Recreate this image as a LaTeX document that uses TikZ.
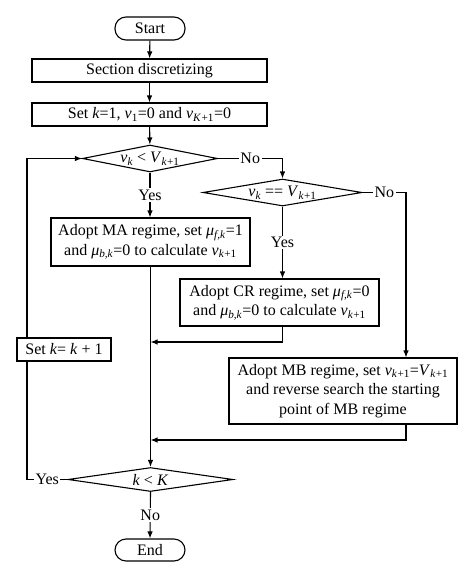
\documentclass[tikz,border=0pt]{standalone}
\usepackage{fontspec}
\setmainfont{Liberation Serif}
\usetikzlibrary{shapes.geometric,arrows.meta}
\newcommand\nuu{\textit{ν}}
\newcommand\muu{\textit{μ}}
\newcommand\sbs[1]{\textsubscript{\textit{#1}}}
\begin{document}
\begin{tikzpicture}[x=1pt,y=-1pt,
  every node/.style={font=\fontsize{16}{19.5}\selectfont},
  procbox/.style={draw,line width=1.1pt,rectangle,inner sep=0pt,align=center},
  term/.style={draw,line width=1.1pt,rectangle,rounded corners=11pt,inner sep=0pt},
  decis/.style={draw,line width=1.1pt,diamond,aspect=5,inner sep=0pt},
  conn/.style={line width=1.1pt},
  arr/.style={conn,-{Latex[length=7pt,width=5.5pt]}},
  lbl/.style={fill=white,inner sep=1.5pt}]
\useasboundingbox (0,0) rectangle (474,579);
\node[term,minimum width=70pt,minimum height=23pt] (start) at (150,28.5) {Start};
\node[procbox,minimum width=235pt,minimum height=23pt] (sec) at (149.5,70.5) {Section discretizing};
\node[procbox,minimum width=235pt,minimum height=23pt] (set) at (149.5,114.5) {Set \textit{k}=1, \nuu\textsubscript{1}=0 and \nuu\sbs{K}\textsubscript{+1}=0};
\node[decis,minimum width=135pt,minimum height=27pt] (d1) at (150,158.5) {\nuu\sbs{k} {<} \textit{V}\sbs{k}\textsubscript{+1}};
\node[decis,minimum width=159pt,minimum height=27pt] (d2) at (282.5,192.5) {\nuu\sbs{k} == \textit{V}\sbs{k}\textsubscript{+1}};
\node[procbox,minimum width=199pt,minimum height=48pt] (ma) at (150.5,242) {Adopt MA regime, set \muu\sbs{f,k}=1\\and \muu\sbs{b,k}=0 to calculate \nuu\sbs{k}\textsubscript{+1}};
\node[procbox,minimum width=199pt,minimum height=47pt] (cr) at (279.5,302.5) {Adopt CR regime, set \muu\sbs{f,k}=0\\and \muu\sbs{b,k}=0 to calculate \nuu\sbs{k}\textsubscript{+1}};
\node[procbox,minimum width=94pt,minimum height=23pt] (setk) at (64,349.5) {Set \textit{k}= \textit{k} + 1};
\node[procbox,minimum width=228pt,minimum height=66pt] (mb) at (343,391) {Adopt MB regime, set \nuu\sbs{k}\textsubscript{+1}=\textit{V}\sbs{k}\textsubscript{+1}\\and reverse search the starting\\point of MB regime};
\node[decis,minimum width=165pt,minimum height=24pt] (d3) at (150.5,479.5) {\textit{k} {<} \textit{K}};
\node[term,minimum width=70pt,minimum height=22pt] (end) at (150,550) {End};
\coordinate (c1) at (282.5,158.5);
\coordinate (c2) at (406,192.5);
\coordinate (j1) at (150.5,342);
\coordinate (c3) at (406,440);
\coordinate (j2) at (150.5,440);
\coordinate (c4) at (27,479.5);
\coordinate (c5) at (27,158.5);
\draw[arr] (start) -- (sec);
\draw[arr] (sec) -- (set);
\draw[arr] (set) -- (d1);
\draw[arr] (d1.east) -- node[lbl]{No} (c1) -- (d2.north);
\draw[arr] (d2.east) -- node[lbl]{No} (c2) -- (c2 |- mb.north);
\draw[arr] (d1.south) -- node[lbl]{Yes} (d1.south |- ma.north);
\draw[arr] (d2.south) -- node[lbl]{Yes} (d2.south |- cr.north);
\draw[arr] (cr.south -| d2.south) -- (d2.south |- j1) -- (j1);
\draw[arr] (ma.south) -- (ma.south |- d3.north);
\draw[arr] (c2 |- mb.south) -- (c3) -- (j2);
\draw[conn] (d3.west) -- node[lbl]{Yes} (c4) -- (c4 |- setk.south);
\draw[arr] (c4 |- setk.north) -- (c5) -- (d1.west);
\draw[arr] (d3.south) -- node[lbl]{No} (end.north);
\end{tikzpicture}
\end{document}
